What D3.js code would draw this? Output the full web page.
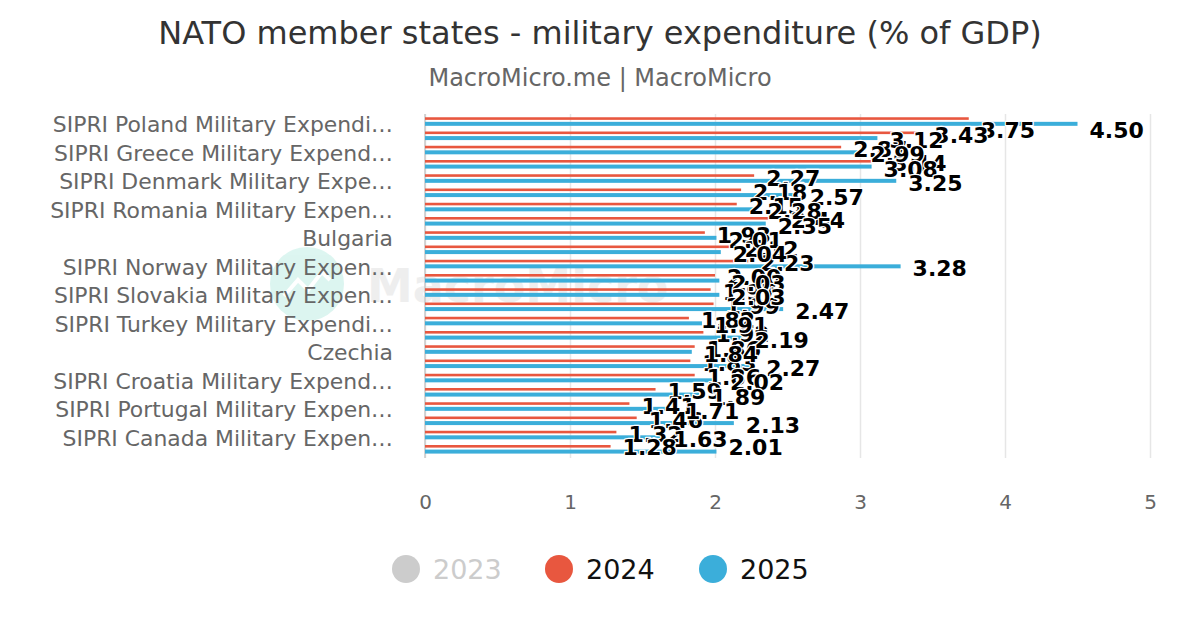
<!DOCTYPE html>
<html>
<head>
<meta charset="utf-8">
<script src="https://cdn.jsdelivr.net/npm/d3@7/dist/d3.min.js"></script>
<style>
  body { margin: 0; background: #fff; }
  svg { display: block; font-family: "DejaVu Sans", sans-serif; }
</style>
</head>
<body>
<svg id="chart" width="1200" height="630"></svg>
<script>
// Categories in drawing order (top to bottom). Only every second label is shown on the axis.
const categories = [
  'SIPRI Poland Military Expendi…',
  'SIPRI United States Military E…',
  'SIPRI Greece Military Expend…',
  'SIPRI Estonia Military Expen…',
  'SIPRI Denmark Military Expe…',
  'SIPRI Finland Military Expen…',
  'SIPRI Romania Military Expen…',
  'SIPRI Latvia Military Expendi…',
  'Bulgaria',
  'SIPRI Hungary Military Expen…',
  'SIPRI Norway Military Expen…',
  'SIPRI United Kingdom Military…',
  'SIPRI Slovakia Military Expen…',
  'SIPRI Sweden Military Expen…',
  'SIPRI Turkey Military Expendi…',
  'SIPRI France Military Expendi…',
  'Czechia',
  'SIPRI Netherlands Military Ex…',
  'SIPRI Croatia Military Expend…',
  'SIPRI Albania Military Expend…',
  'SIPRI Portugal Military Expen…',
  'SIPRI Germany Military Expen…',
  'SIPRI Canada Military Expen…',
  'SIPRI Italy Military Expenditu…'
];

const values2024 = [3.75, 3.43, 2.87, 3.14, 2.27, 2.18, 2.15, 2.44, 1.93, 2.12, 2.23, 2.00,
                    1.97, 1.99, 1.82, 1.92, 1.86, 1.83, 1.86, 1.59, 1.41, 1.46, 1.32, 1.28];
const values2025 = [4.50, 3.12, 2.99, 3.08, 3.25, 2.57, 2.28, 2.35, 2.01, 2.04, 3.28, 2.03,
                    2.03, 2.47, 1.91, 2.19, 1.84, 2.27, 2.02, 1.89, 1.71, 2.13, 1.63, 2.01];

const legendNames = ['2023', '2024', '2025'];
const legendVisible = [false, true, true];
const xTicks = [0, 1, 2, 3, 4, 5];

const colors = { '2023': '#cccccc', '2024': '#e8573f', '2025': '#3baeda' };

const series = [
  { name: '2024', values: values2024, thickness: 2.6 },
  { name: '2025', values: values2025, thickness: 4 }
];

const svg = d3.select('#chart');
const plot = { left: 425, right: 1150, top: 113.5, bottom: 455.5, gridTop: 114, gridBottom: 458 };

const x = d3.scaleLinear().domain([0, 5]).range([plot.left, plot.right]);
const y = d3.scaleBand().domain(categories).range([plot.top, plot.bottom]);
const ySub = d3.scaleBand()
  .domain(series.map((s) => s.name))
  .range([y.bandwidth() * 0.17, y.bandwidth() * 0.91]);

// title + subtitle
svg.append('text')
  .attr('x', 600).attr('y', 33)
  .attr('text-anchor', 'middle').attr('dominant-baseline', 'central')
  .attr('fill', '#333').style('font-size', '32px')
  .text('NATO member states - military expenditure (% of GDP)');

svg.append('text')
  .attr('x', 600).attr('y', 78)
  .attr('text-anchor', 'middle').attr('dominant-baseline', 'central')
  .attr('fill', '#666').style('font-size', '24px')
  .text('MacroMicro.me | MacroMicro');

// watermark
const mark = svg.append('g').attr('opacity', 0.9);
mark.append('circle').attr('cx', 307).attr('cy', 284).attr('r', 37).attr('fill', '#d9f5ef');
mark.append('path')
  .attr('d', 'M284 296 L298 280 L308 290 L322 272 L330 280')
  .attr('fill', 'none').attr('stroke', '#ffffff').attr('stroke-width', 4);
mark.append('text')
  .attr('x', 367).attr('y', 302)
  .attr('fill', '#ededed').style('font-size', '46px').style('font-weight', 'bold')
  .text('MacroMicro');

// gridlines
svg.append('g')
  .attr('transform', `translate(0,${plot.gridBottom})`)
  .call(d3.axisBottom(x).tickValues(xTicks).tickSize(-(plot.gridBottom - plot.gridTop)).tickFormat(''))
  .call((g) => g.select('.domain').remove())
  .call((g) => g.selectAll('.tick line').attr('stroke', '#e6e6e6').attr('stroke-width', 1.5));

// x tick labels
svg.append('g')
  .attr('transform', 'translate(0,502)')
  .call(d3.axisBottom(x).tickValues(xTicks).tickSize(0).tickPadding(0).tickFormat(d3.format('d')))
  .call((g) => g.select('.domain').remove())
  .call((g) => g.selectAll('text')
    .attr('fill', '#666').attr('dy', null).attr('dominant-baseline', 'central')
    .style('font-size', '20px').style('font-family', '"DejaVu Sans", sans-serif'));

// category axis
svg.append('g')
  .attr('transform', `translate(${plot.left},0)`)
  .call(d3.axisLeft(y).tickValues(categories.filter((d, i) => i % 2 === 0)).tickSize(0).tickPadding(32))
  .call((g) => g.select('.domain').remove())
  .call((g) => g.selectAll('text')
    .attr('fill', '#666').attr('dy', null).attr('y', 4).attr('dominant-baseline', 'central')
    .style('font-size', '21.9px').style('font-family', '"DejaVu Sans", sans-serif'));

svg.append('line')
  .attr('x1', plot.left).attr('x2', plot.left)
  .attr('y1', plot.gridTop).attr('y2', plot.gridBottom)
  .attr('stroke', '#c8c8c8').attr('stroke-width', 1.5);

// bars
const barCenter = (s, i) => y(categories[i]) + ySub(s.name) + ySub.bandwidth() / 2;
series.forEach((s) => {
  svg.append('g')
    .selectAll('rect')
    .data(s.values)
    .join('rect')
    .attr('x', x(0))
    .attr('y', (d, i) => barCenter(s, i) - s.thickness / 2)
    .attr('width', (d) => x(d) - x(0))
    .attr('height', s.thickness)
    .attr('fill', colors[s.name]);
});

// data labels (drawn after all bars, later series on top), kept inside the plot area
series.forEach((s) => {
  svg.append('g')
    .selectAll('text')
    .data(s.values)
    .join('text')
    .attr('x', (d) => x(d) + 12)
    .attr('y', (d, i) => Math.min(447, Math.max(130, barCenter(s, i) + 2.5)))
    .attr('dominant-baseline', 'central')
    .attr('fill', '#000')
    .attr('stroke', '#fff').attr('stroke-width', 2.5).attr('paint-order', 'stroke')
    .attr('stroke-linejoin', 'round')
    .style('font-size', '22px').style('font-weight', 'bold')
    .text((d) => d3.format('.2f')(d));
});

// legend
const legendX = [406, 559, 713];
const legend = svg.append('g');
legendNames.forEach((name, i) => {
  const on = legendVisible[i];
  legend.append('circle')
    .attr('cx', legendX[i]).attr('cy', 569).attr('r', 14)
    .attr('fill', on ? colors[name] : '#cccccc');
  legend.append('text')
    .attr('x', legendX[i] + 27).attr('y', 569)
    .attr('dominant-baseline', 'central')
    .attr('fill', on ? '#111' : '#cccccc')
    .style('font-size', '27px')
    .text(name);
});
</script>
</body>
</html>
